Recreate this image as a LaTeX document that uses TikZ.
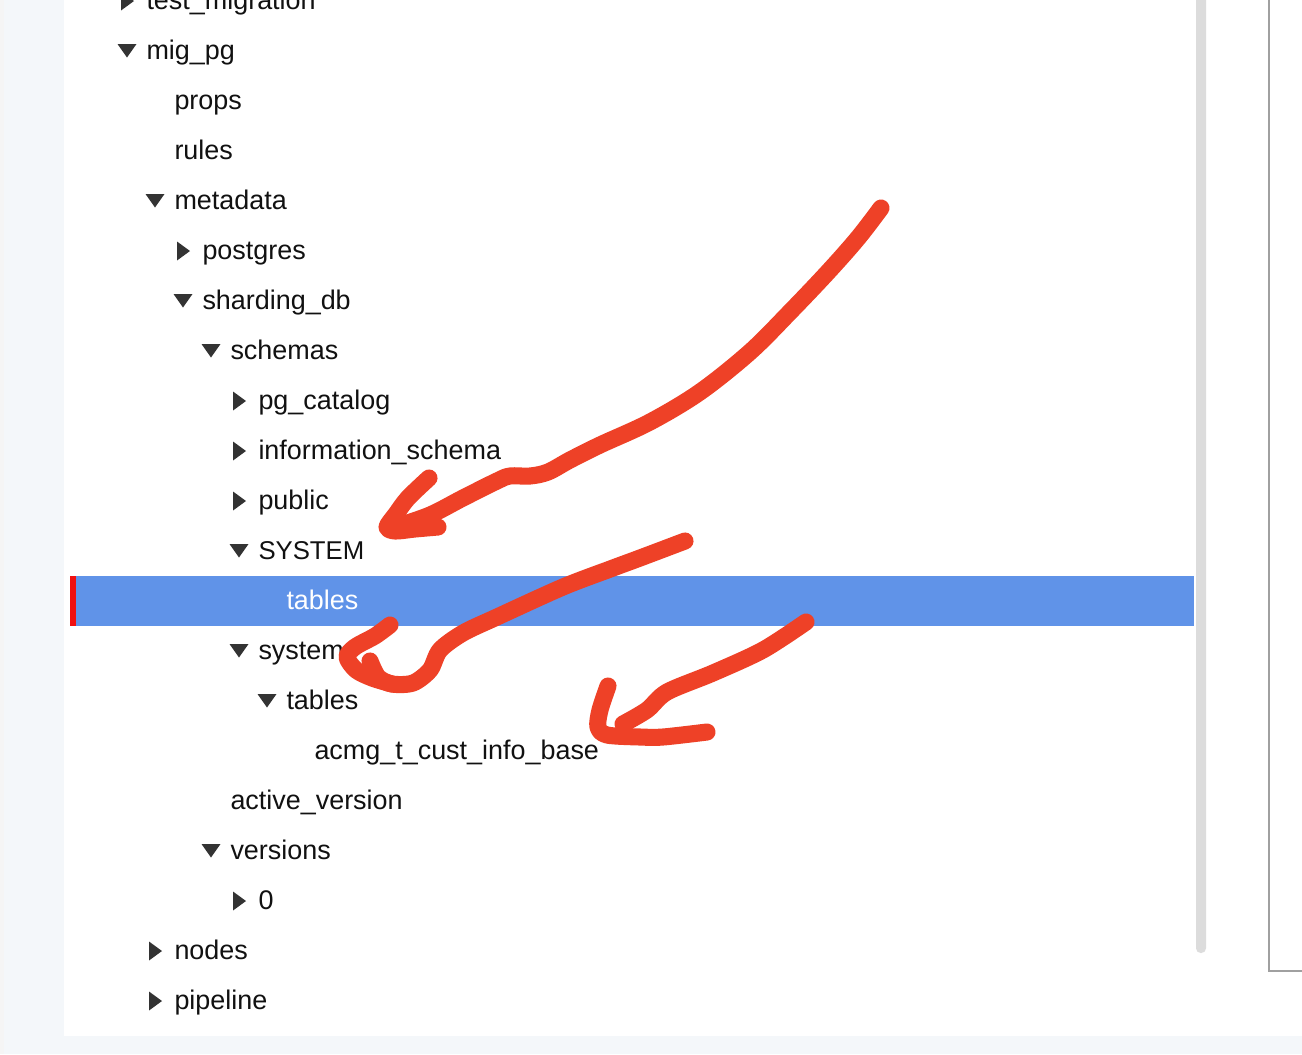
\documentclass[tikz,border=0pt]{standalone}
\usepackage{fontspec}
\setmainfont{Liberation Sans}
\definecolor{pagebg}{HTML}{F4F7FA}
\definecolor{edgebg}{HTML}{F5F5F5}
\definecolor{selrow}{HTML}{6093E8}
\definecolor{selbar}{HTML}{F01010}
\definecolor{thumb}{HTML}{DCDCDC}
\definecolor{frameline}{HTML}{A0A0A0}
\definecolor{tri}{HTML}{333333}
\definecolor{ink}{HTML}{111111}
\definecolor{pen}{HTML}{EE4127}
\tikzset{
  item/.style={anchor=base west,inner sep=0pt,outer sep=0pt,text=ink,font=\fontsize{20.2pt}{24pt}\selectfont},
  selitem/.style={item,text=white},
  capsitem/.style={item,font=\fontsize{19.3pt}{24pt}\selectfont},
  penstroke/.style={draw=pen,line width=12.8pt,line cap=round,line join=round},
  tridown/.pic={\fill[tri] (-9.5,-6.5) -- (9.5,-6.5) -- (0,7) -- cycle;},
  triright/.pic={\fill[tri] (-6.5,-9.5) -- (6.5,0) -- (-6.5,9.5) -- cycle;}
}
\begin{document}
\begin{tikzpicture}[x=0.75pt,y=-0.75pt]
\clip (0,0) rectangle (1302,1054);
\fill[pagebg] (0,0) rectangle (1302,1054);
\fill[edgebg] (0,0) rectangle (4,1054);
\fill[white] (64,0) rectangle (1302,1036);
% selected row
\fill[selrow] (76,576) rectangle (1194,626);
\fill[selbar] (70,576) rectangle (76,626);
% scrollbar and frame
\fill[thumb,rounded corners=3.5pt] (1196,-20) rectangle (1206,953);
\draw[frameline,line width=1.5pt] (1269,-5) -- (1269,971) -- (1310,971);
% triangles
\pic at (127.5,1) {triright};
\pic at (127,50.5) {tridown};
\pic at (155,200.5) {tridown};
\pic at (183.5,251) {triright};
\pic at (183,300.5) {tridown};
\pic at (211,350.5) {tridown};
\pic at (239.5,401) {triright};
\pic at (239.5,451) {triright};
\pic at (239.5,501) {triright};
\pic at (239,550.5) {tridown};
\pic at (239,650.5) {tridown};
\pic at (267,700.5) {tridown};
\pic at (211,850.5) {tridown};
\pic at (239.5,901) {triright};
\pic at (155.5,951) {triright};
\pic at (155.5,1001) {triright};
% labels
\node[item] (n0) at (146.5,9.5) {test\_migration};
\node[item] (n1) at (146.5,59.5) {mig\_pg};
\node[item] (n2) at (174.5,109.5) {props};
\node[item] (n3) at (174.5,159.5) {rules};
\node[item] (n4) at (174.5,209.5) {metadata};
\node[item] (n5) at (202.5,259.5) {postgres};
\node[item] (n6) at (202.5,309.5) {sharding\_db};
\node[item] (n7) at (230.5,359.5) {schemas};
\node[item] (n8) at (258.5,409.5) {pg\_catalog};
\node[item] (n9) at (258.5,459.5) {information\_schema};
\node[item] (n10) at (258.5,509.5) {public};
\node[capsitem] (n11) at (258.5,559.5) {SYSTEM};
\node[selitem] (n12) at (286.5,609.5) {tables};
\node[item] (n13) at (258.5,659.5) {system};
\node[item] (n14) at (286.5,709.5) {tables};
\node[item] (n15) at (314.5,759.5) {acmg\_t\_cust\_info\_base};
\node[item] (n16) at (230.5,809.5) {active\_version};
\node[item] (n17) at (230.5,859.5) {versions};
\node[item] (n18) at (258.5,909.5) {0};
\node[item] (n19) at (174.5,959.5) {nodes};
\node[item] (n20) at (174.5,1009.5) {pipeline};
% hand-drawn arrows
\draw[penstroke] plot[smooth,tension=0.55] coordinates {(881,208) (858,238) (828,272) (790,312) (750,352) (700,392) (650,422) (600,445) (570,460) (548,472) (530,476) (510,476) (497,481) (463,498) (430,515) (395,527)};
\draw[penstroke] plot[smooth,tension=0.5] coordinates {(429,478) (408,498) (396,514) (387,527) (395,531) (415,529) (438,527)};
\draw[penstroke] plot[smooth,tension=0.5] coordinates {(685,541) (640,558) (613,568) (563,587) (497,617) (463,633) (440,650) (430,670) (413,683) (392,684) (378,677) (370,661)};
\draw[penstroke] plot[smooth,tension=0.5] coordinates {(390,625) (375,636) (355,647) (347,657) (356,670) (372,678) (392,684)};
\draw[penstroke] plot[smooth,tension=0.5] coordinates {(806,622) (763,650) (713,673) (667,692) (647,710) (623,724)};
\draw[penstroke] plot[smooth,tension=0.5] coordinates {(608,686) (600,710) (598,727) (607,735) (640,737) (663,737) (707,732)};
\end{tikzpicture}
\end{document}
